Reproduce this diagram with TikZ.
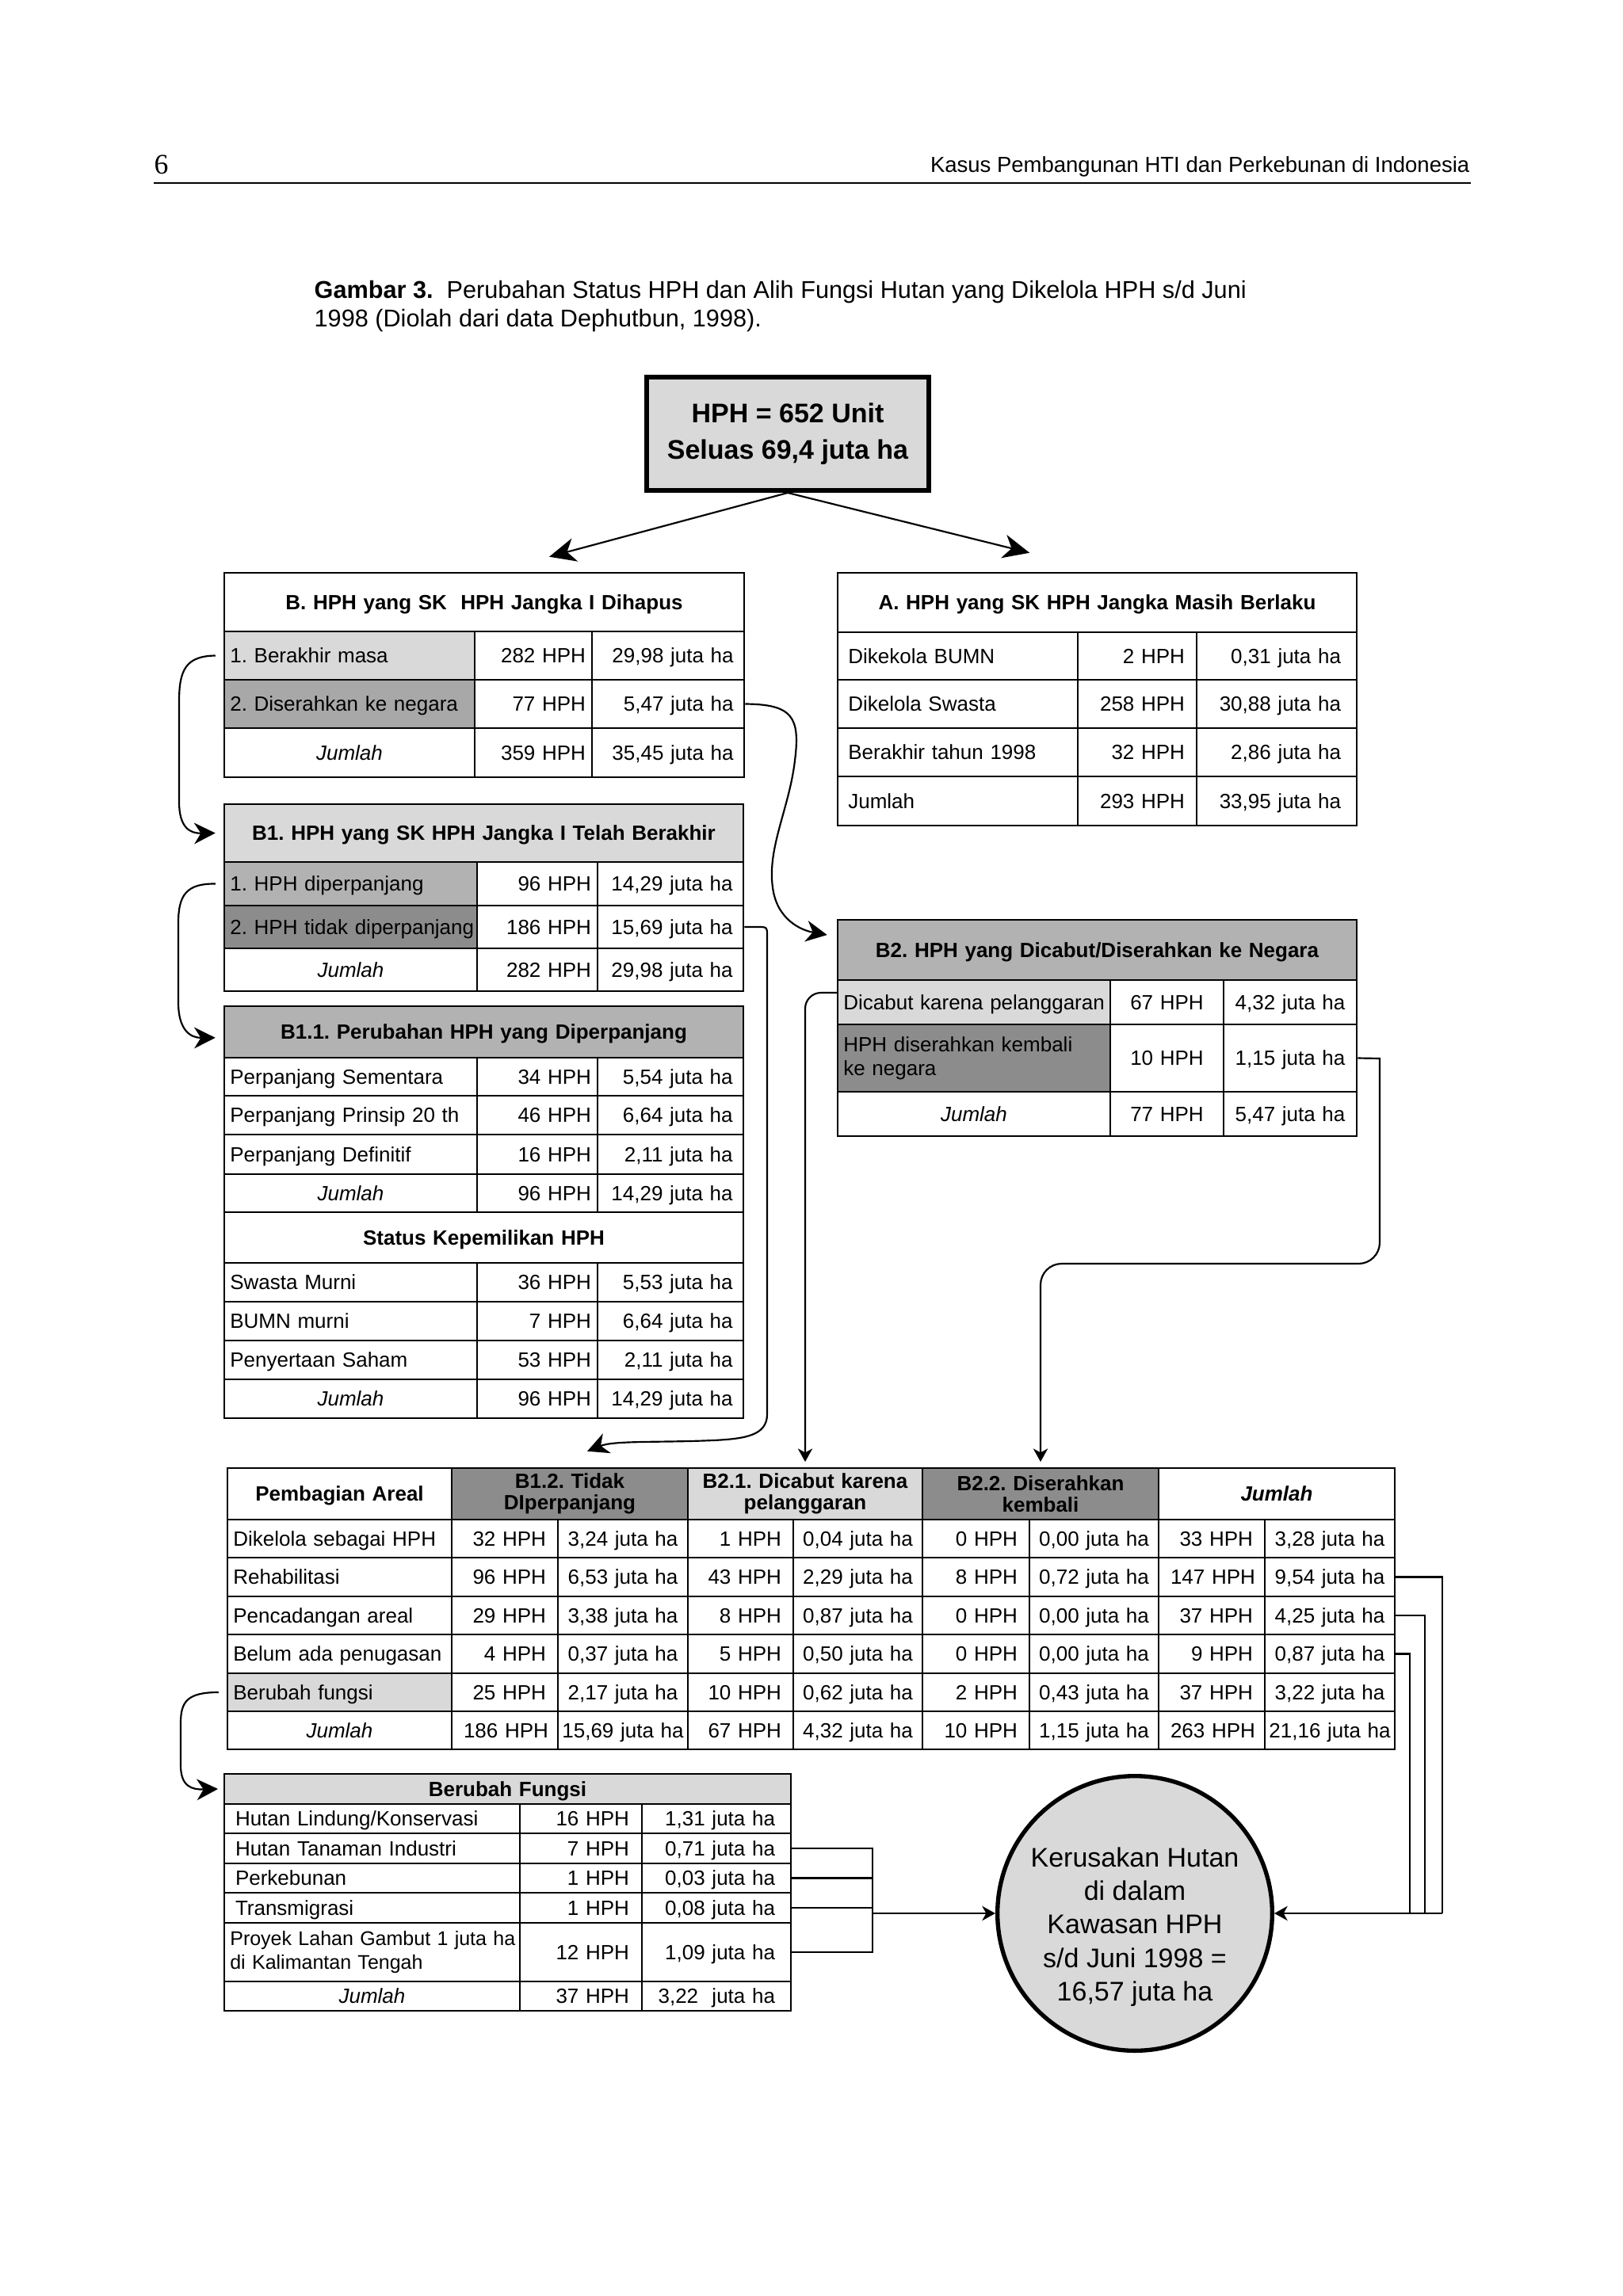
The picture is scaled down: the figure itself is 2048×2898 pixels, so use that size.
\documentclass[tikz,border=0pt]{standalone}
\usepackage{fontspec}
\setmainfont{Liberation Sans}
\newfontfamily\pagefont{Liberation Serif}
\usetikzlibrary{arrows.meta}
\definecolor{LG}{gray}{0.85}
\definecolor{MG}{gray}{0.70}
\definecolor{BG}{gray}{0.66}
\definecolor{DG}{gray}{0.55}
\frenchspacing
\newcommand\tabfont{\fontsize{7.8}{9}\selectfont}
\def\cpad{2.2}
% \cell[opts]{name}{x1}{y1}{x2}{y2}{text}
\newcommand\cell[7][]{%
  \pgfmathsetmacro\cellW{(#5-#3)*0.3}%
  \pgfmathsetmacro\cellH{(#6-#4)*0.3}%
  \pgfmathsetmacro\cellT{\cellW-2*\cpad}%
  \node[cellbox, minimum width=\cellW pt, minimum height=\cellH pt, text width=\cellT pt, #1] (#2) at ({(#3+#5)/2},{(#4+#6)/2}) {#7};%
}
\newcommand\setcols[4]{\def\colA{#1}\def\colB{#2}\def\colC{#3}\def\colD{#4}}
\newcommand\setpads[3]{\def\padA{#1}\def\padB{#2}\def\padC{#3}}
\newcommand\rowthree[7]{%
  \def\cpad{\padA}\cell[#4]{#1a}{\colA}{#2}{\colB}{#3}{\mbox{#5}}%
  \def\cpad{\padB}\cell[numcol]{#1b}{\colB}{#2}{\colC}{#3}{\mbox{#6}}%
  \def\cpad{\padC}\cell[numcol]{#1c}{\colC}{#2}{\colD}{#3}{\mbox{#7}}}
\newcommand\bigrowA[9]{%
  \def\cpad{2.2}\cell[#4]{BT#1a}{287}{#2}{570}{#3}{\mbox{#5}}%
  \def\cpad{4.5}\cell[numR]{BT#1b}{570}{#2}{704}{#3}{\mbox{#6 HPH}}%
  \def\cpad{0.5}\cell[numC]{BT#1c}{704}{#2}{868}{#3}{\mbox{#7 juta ha}}%
  \def\cpad{4.5}\cell[numR]{BT#1d}{868}{#2}{1001}{#3}{\mbox{#8 HPH}}%
  \def\cpad{0.5}\cell[numC]{BT#1e}{1001}{#2}{1164}{#3}{\mbox{#9 juta ha}}}
\newcommand\bigrowB[7]{%
  \def\cpad{4.5}\cell[numR]{BT#1f}{1164}{#2}{1299}{#3}{\mbox{#4 HPH}}%
  \def\cpad{0.5}\cell[numC]{BT#1g}{1299}{#2}{1462}{#3}{\mbox{#5 juta ha}}%
  \def\cpad{4.5}\cell[numR]{BT#1h}{1462}{#2}{1596}{#3}{\mbox{#6 HPH}}%
  \def\cpad{0.5}\cell[numC]{BT#1i}{1596}{#2}{1760}{#3}{\mbox{#7 juta ha}}}

\begin{document}
\begin{tikzpicture}[x=0.3pt,y=-0.3pt,
  cellbox/.style={draw, line width=0.75pt, inner sep=0pt, align=left, font=\tabfont,
    text height=7.2pt, text depth=1.6pt, anchor=center},
  numR/.style={align=right}, numC/.style={align=center},
  numcol/.style={align=right},
  hd/.style={font=\tabfont\bfseries, align=center},
  hdtwo/.style={font=\fontsize{7.8}{8.1}\selectfont\bfseries, align=center, text height={}, text depth={}},
  jml/.style={font=\tabfont\itshape, align=center},
  multi/.style={text height={}, text depth={}},
  con/.style={line width=0.65pt},
  abig/.style={-{Stealth[length=10pt,width=9pt,inset=3pt]}},
  amed/.style={-{Stealth[length=8pt,width=8pt,inset=2.5pt]}},
  asm/.style={-{Stealth[length=5pt,width=5.5pt,inset=1.5pt]}}]
\fill[white] (0,0) rectangle (2048,2898);
\useasboundingbox (0,0) rectangle (2048,2898);

% page header
\node[anchor=base west, inner sep=0pt, font=\pagefont\fontsize{10.7}{12}\selectfont] (pg) at (194,220) {6};
\node[anchor=base east, inner sep=0pt, font=\fontsize{8.25}{10}\selectfont] (hdr) at (1855,218) {Kasus Pembangunan HTI dan Perkebunan di Indonesia};
\draw[line width=0.7pt] (194,231) -- (1856,231);

% caption
\node[anchor=base west, inner sep=0pt, font=\fontsize{9.2}{11}\selectfont] (cap1) at (396,376) {\textbf{Gambar 3.}\ \ Perubahan Status HPH dan Alih Fungsi Hutan yang Dikelola HPH s/d Juni};
\node[anchor=base west, inner sep=0pt, font=\fontsize{9.2}{11}\selectfont] (cap2) at (396,412) {1998 (Diolah dari data Dephutbun, 1998).};

% top box
\node[draw, line width=1.8pt, fill=LG, inner sep=0pt, minimum width=106.8pt, minimum height=42.9pt, align=center,
  font=\bfseries\fontsize{10.2}{13.8}\selectfont] (top) at (994,547.5) {HPH = 652 Unit\\Seluas 69,4 juta ha};

% Table B
\setcols{283}{599}{747}{939}\setpads{2.2}{2.4}{4}\tikzset{numcol/.style={align=right}}
\def\cpad{2}\cell[hd]{Bh}{283}{723}{939}{797}{B. HPH yang SK\ \ HPH Jangka I Dihapus}
\rowthree{Br1}{797}{858}{fill=LG}{1. Berakhir masa}{282 HPH}{29,98 juta ha}
\rowthree{Br2}{858}{919}{fill=BG}{2. Diserahkan ke negara}{77 HPH}{5,47 juta ha}
\rowthree{Br3}{919}{981}{jml}{Jumlah}{359 HPH}{35,45 juta ha}

% Table A
\setcols{1057}{1360}{1510}{1712}\setpads{4}{4.5}{6}
\def\cpad{2}\cell[hd]{Ah}{1057}{723}{1712}{798}{A. HPH yang SK HPH Jangka Masih Berlaku}
\rowthree{Ar1}{798}{858}{}{Dikekola BUMN}{2 HPH}{0,31 juta ha}
\rowthree{Ar2}{858}{919}{}{Dikelola Swasta}{258 HPH}{30,88 juta ha}
\rowthree{Ar3}{919}{980}{}{Berakhir tahun 1998}{32 HPH}{2,86 juta ha}
\rowthree{Ar4}{980}{1042}{}{Jumlah}{293 HPH}{33,95 juta ha}

% Table B1
\setcols{283}{602}{754}{938}\setpads{2.2}{2.4}{4}
\def\cpad{2}\cell[hd,fill=LG]{B1h}{283}{1015}{938}{1088}{B1. HPH yang SK HPH Jangka I Telah Berakhir}
\rowthree{B1r1}{1088}{1143}{fill=MG}{1. HPH diperpanjang}{96 HPH}{14,29 juta ha}
\rowthree{B1r2}{1143}{1197}{fill=DG}{2. HPH tidak diperpanjang}{186 HPH}{15,69 juta ha}
\rowthree{B1r3}{1197}{1251}{jml}{Jumlah}{282 HPH}{29,98 juta ha}

% Table B1.1
\def\cpad{2}\cell[hd,fill=MG]{B11h}{283}{1270}{938}{1335}{B1.1. Perubahan HPH yang Diperpanjang}
\rowthree{B11r1}{1335}{1383}{}{Perpanjang Sementara}{34 HPH}{5,54 juta ha}
\rowthree{B11r2}{1383}{1432}{}{Perpanjang Prinsip 20 th}{46 HPH}{6,64 juta ha}
\rowthree{B11r3}{1432}{1482}{}{Perpanjang Definitif}{16 HPH}{2,11 juta ha}
\rowthree{B11r4}{1482}{1530}{jml}{Jumlah}{96 HPH}{14,29 juta ha}
\def\cpad{2}\cell[hd]{B11s}{283}{1530}{938}{1594}{Status Kepemilikan HPH}
\rowthree{B11r5}{1594}{1643}{}{Swasta Murni}{36 HPH}{5,53 juta ha}
\rowthree{B11r6}{1643}{1692}{}{BUMN murni}{7 HPH}{6,64 juta ha}
\rowthree{B11r7}{1692}{1741}{}{Penyertaan Saham}{53 HPH}{2,11 juta ha}
\rowthree{B11r8}{1741}{1790}{jml}{Jumlah}{96 HPH}{14,29 juta ha}

% Table B2
\setcols{1057}{1401}{1544}{1712}\setpads{2.2}{1}{1}\tikzset{numcol/.style={align=center}}
\def\cpad{2}\cell[hd,fill=MG]{B2h}{1057}{1161}{1712}{1237}{B2. HPH yang Dicabut/Diserahkan ke Negara}
\rowthree{B2r1}{1237}{1293}{fill=LG}{Dicabut karena pelanggaran}{67 HPH}{4,32 juta ha}
\def\cpad{2.2}\cell[fill=DG,multi]{B2r2a}{1057}{1293}{1401}{1378}{HPH diserahkan kembali\\ke negara}
\def\cpad{1}\cell[numcol]{B2r2b}{1401}{1293}{1544}{1378}{10 HPH}
\cell[numcol]{B2r2c}{1544}{1293}{1712}{1378}{1,15 juta ha}
\rowthree{B2r3}{1378}{1434}{jml}{Jumlah}{77 HPH}{5,47 juta ha}

% Big table
\def\cpad{1}
\cell[hd]{BTh1}{287}{1853}{570}{1918}{Pembagian Areal}
\cell[hdtwo,fill=DG]{BTh2}{570}{1853}{868}{1918}{B1.2. Tidak\\DIperpanjang}
\cell[hdtwo,fill=LG]{BTh3}{868}{1853}{1164}{1918}{B2.1. Dicabut karena\\pelanggaran}
\cell[hdtwo,fill=DG]{BTh4}{1164}{1853}{1462}{1918}{B2.2. Diserahkan\\kembali}
\cell[hd,font=\tabfont\bfseries\itshape]{BTh5}{1462}{1853}{1760}{1918}{Jumlah}
\bigrowA{1}{1918}{1966}{}{Dikelola sebagai HPH}{32}{3,24}{1}{0,04}
\bigrowB{1}{1918}{1966}{0}{0,00}{33}{3,28}
\bigrowA{2}{1966}{2015}{}{Rehabilitasi}{96}{6,53}{43}{2,29}
\bigrowB{2}{1966}{2015}{8}{0,72}{147}{9,54}
\bigrowA{3}{2015}{2063}{}{Pencadangan areal}{29}{3,38}{8}{0,87}
\bigrowB{3}{2015}{2063}{0}{0,00}{37}{4,25}
\bigrowA{4}{2063}{2112}{}{Belum ada penugasan}{4}{0,37}{5}{0,50}
\bigrowB{4}{2063}{2112}{0}{0,00}{9}{0,87}
\bigrowA{5}{2112}{2160}{fill=LG}{Berubah fungsi}{25}{2,17}{10}{0,62}
\bigrowB{5}{2112}{2160}{2}{0,43}{37}{3,22}
\bigrowA{6}{2160}{2208}{jml}{Jumlah}{186}{15,69}{67}{4,32}
\bigrowB{6}{2160}{2208}{10}{1,15}{263}{21,16}

% Berubah Fungsi table
\setcols{283}{656}{810}{998}\setpads{4.2}{4.8}{6}\tikzset{numcol/.style={align=right}}
\def\cpad{2}\cell[hd,fill=LG]{BFh}{283}{2239}{998}{2277}{Berubah Fungsi}
\rowthree{BFr1}{2277}{2314}{}{Hutan Lindung/Konservasi}{16 HPH}{1,31 juta ha}
\rowthree{BFr2}{2314}{2352}{}{Hutan Tanaman Industri}{7 HPH}{0,71 juta ha}
\rowthree{BFr3}{2352}{2389}{}{Perkebunan}{1 HPH}{0,03 juta ha}
\rowthree{BFr4}{2389}{2427}{}{Transmigrasi}{1 HPH}{0,08 juta ha}
\def\cpad{2.2}\cell[multi,font=\fontsize{7.5}{9}\selectfont]{BFr5a}{283}{2427}{656}{2501}{\mbox{Proyek Lahan Gambut 1 juta ha}\\di Kalimantan Tengah}
\def\cpad{4.8}\cell[numcol]{BFr5b}{656}{2427}{810}{2501}{12 HPH}
\def\cpad{6}\cell[numcol]{BFr5c}{810}{2427}{998}{2501}{1,09 juta ha}
\rowthree{BFr6}{2501}{2538}{jml}{Jumlah}{37 HPH}{3,22\ \ juta ha}

% circle
\node[circle, draw, line width=1.6pt, fill=LG, inner sep=0pt, minimum size=104pt] (K) at (1432,2415) {};
\node[align=center, inner sep=0pt, font=\fontsize{10.2}{12.7}\selectfont] (Ktxt) at (1432,2432)
  {Kerusakan Hutan\\di dalam\\Kawasan HPH\\s/d Juni 1998 =\\16,57 juta ha};

% connectors
\draw[con,abig] (top.south) -- ([xshift=24.6pt,yshift=5.7pt]Bh.north);
\draw[con,abig] (top.south) -- ([xshift=-25.6pt,yshift=7.2pt]Ah.north);

\draw[con,amed] ([xshift=-3pt]Br1a.west) .. controls (235,828) and (226,845) .. (226,885)
  -- (226,1012) .. controls (226,1045) and (240,1052) .. ([xshift=-3pt]B1h.west);
\draw[con,amed] ([xshift=-3pt]B1r1a.west) .. controls (235,1115) and (225,1130) .. (225,1165)
  -- (225,1265) .. controls (225,1300) and (240,1310) .. ([xshift=-3pt,yshift=-2.2pt]B11h.west);
\draw[con,amed] (Br2c.east) .. controls (1000,889) and (1010,905) .. (1003,960)
  .. controls (996,1020) and (968,1070) .. (975,1120)
  .. controls (980,1160) and (1010,1174) .. ([xshift=-3.6pt,yshift=5.7pt]B2h.west);
\draw[con,amed] (B1r2c.east) -- (956,1170) .. controls (968,1170) .. (968,1182) -- (968,1785)
  .. controls (968,1812) and (940,1816) .. (900,1818)
  .. controls (830,1821) and (775,1818) .. ([xshift=6.6pt,yshift=6pt]BTh2.north);
\draw[con,asm,rounded corners=6pt] ([yshift=3.6pt]B2r1a.west) -| ([yshift=2pt]BTh3.north);
\draw[con,asm] (B2r2c.east) -- (1741,1336) [rounded corners=8pt] -- (1741,1595) -- (1313,1595) -- ([yshift=2pt]BTh4.north);
\draw[con,amed] ([xshift=-3pt]BT5a.west) .. controls (236,2136) and (228,2148) .. (228,2175)
  -- (228,2228) .. controls (228,2255) and (242,2259) .. ([xshift=-2pt]BFh.west);

% right bracket into circle
\coordinate (rj1) at (1820,2415);
\coordinate (rj2) at (1798,2415);
\coordinate (rj3) at (1779,2415);
\draw[con] (BT2i.east) -| (rj1);
\draw[con] (BT3i.east) -| (rj2);
\draw[con] (BT4i.east) -| (rj3);
\draw[con,asm] (rj1) -- (K.east);

% left bracket into circle
\coordinate (lj) at (1101,2415);
\draw[con] (BFr2c.east) -- (BFr2c.east -| lj) -- (BFr5c.east -| lj) -- (BFr5c.east);
\draw[con] (BFr3c.east) -- (BFr3c.east -| lj);
\draw[con] (BFr4c.east) -- (BFr4c.east -| lj);
\draw[con,asm] (lj) -- (K.west);
\end{tikzpicture}
\end{document}
